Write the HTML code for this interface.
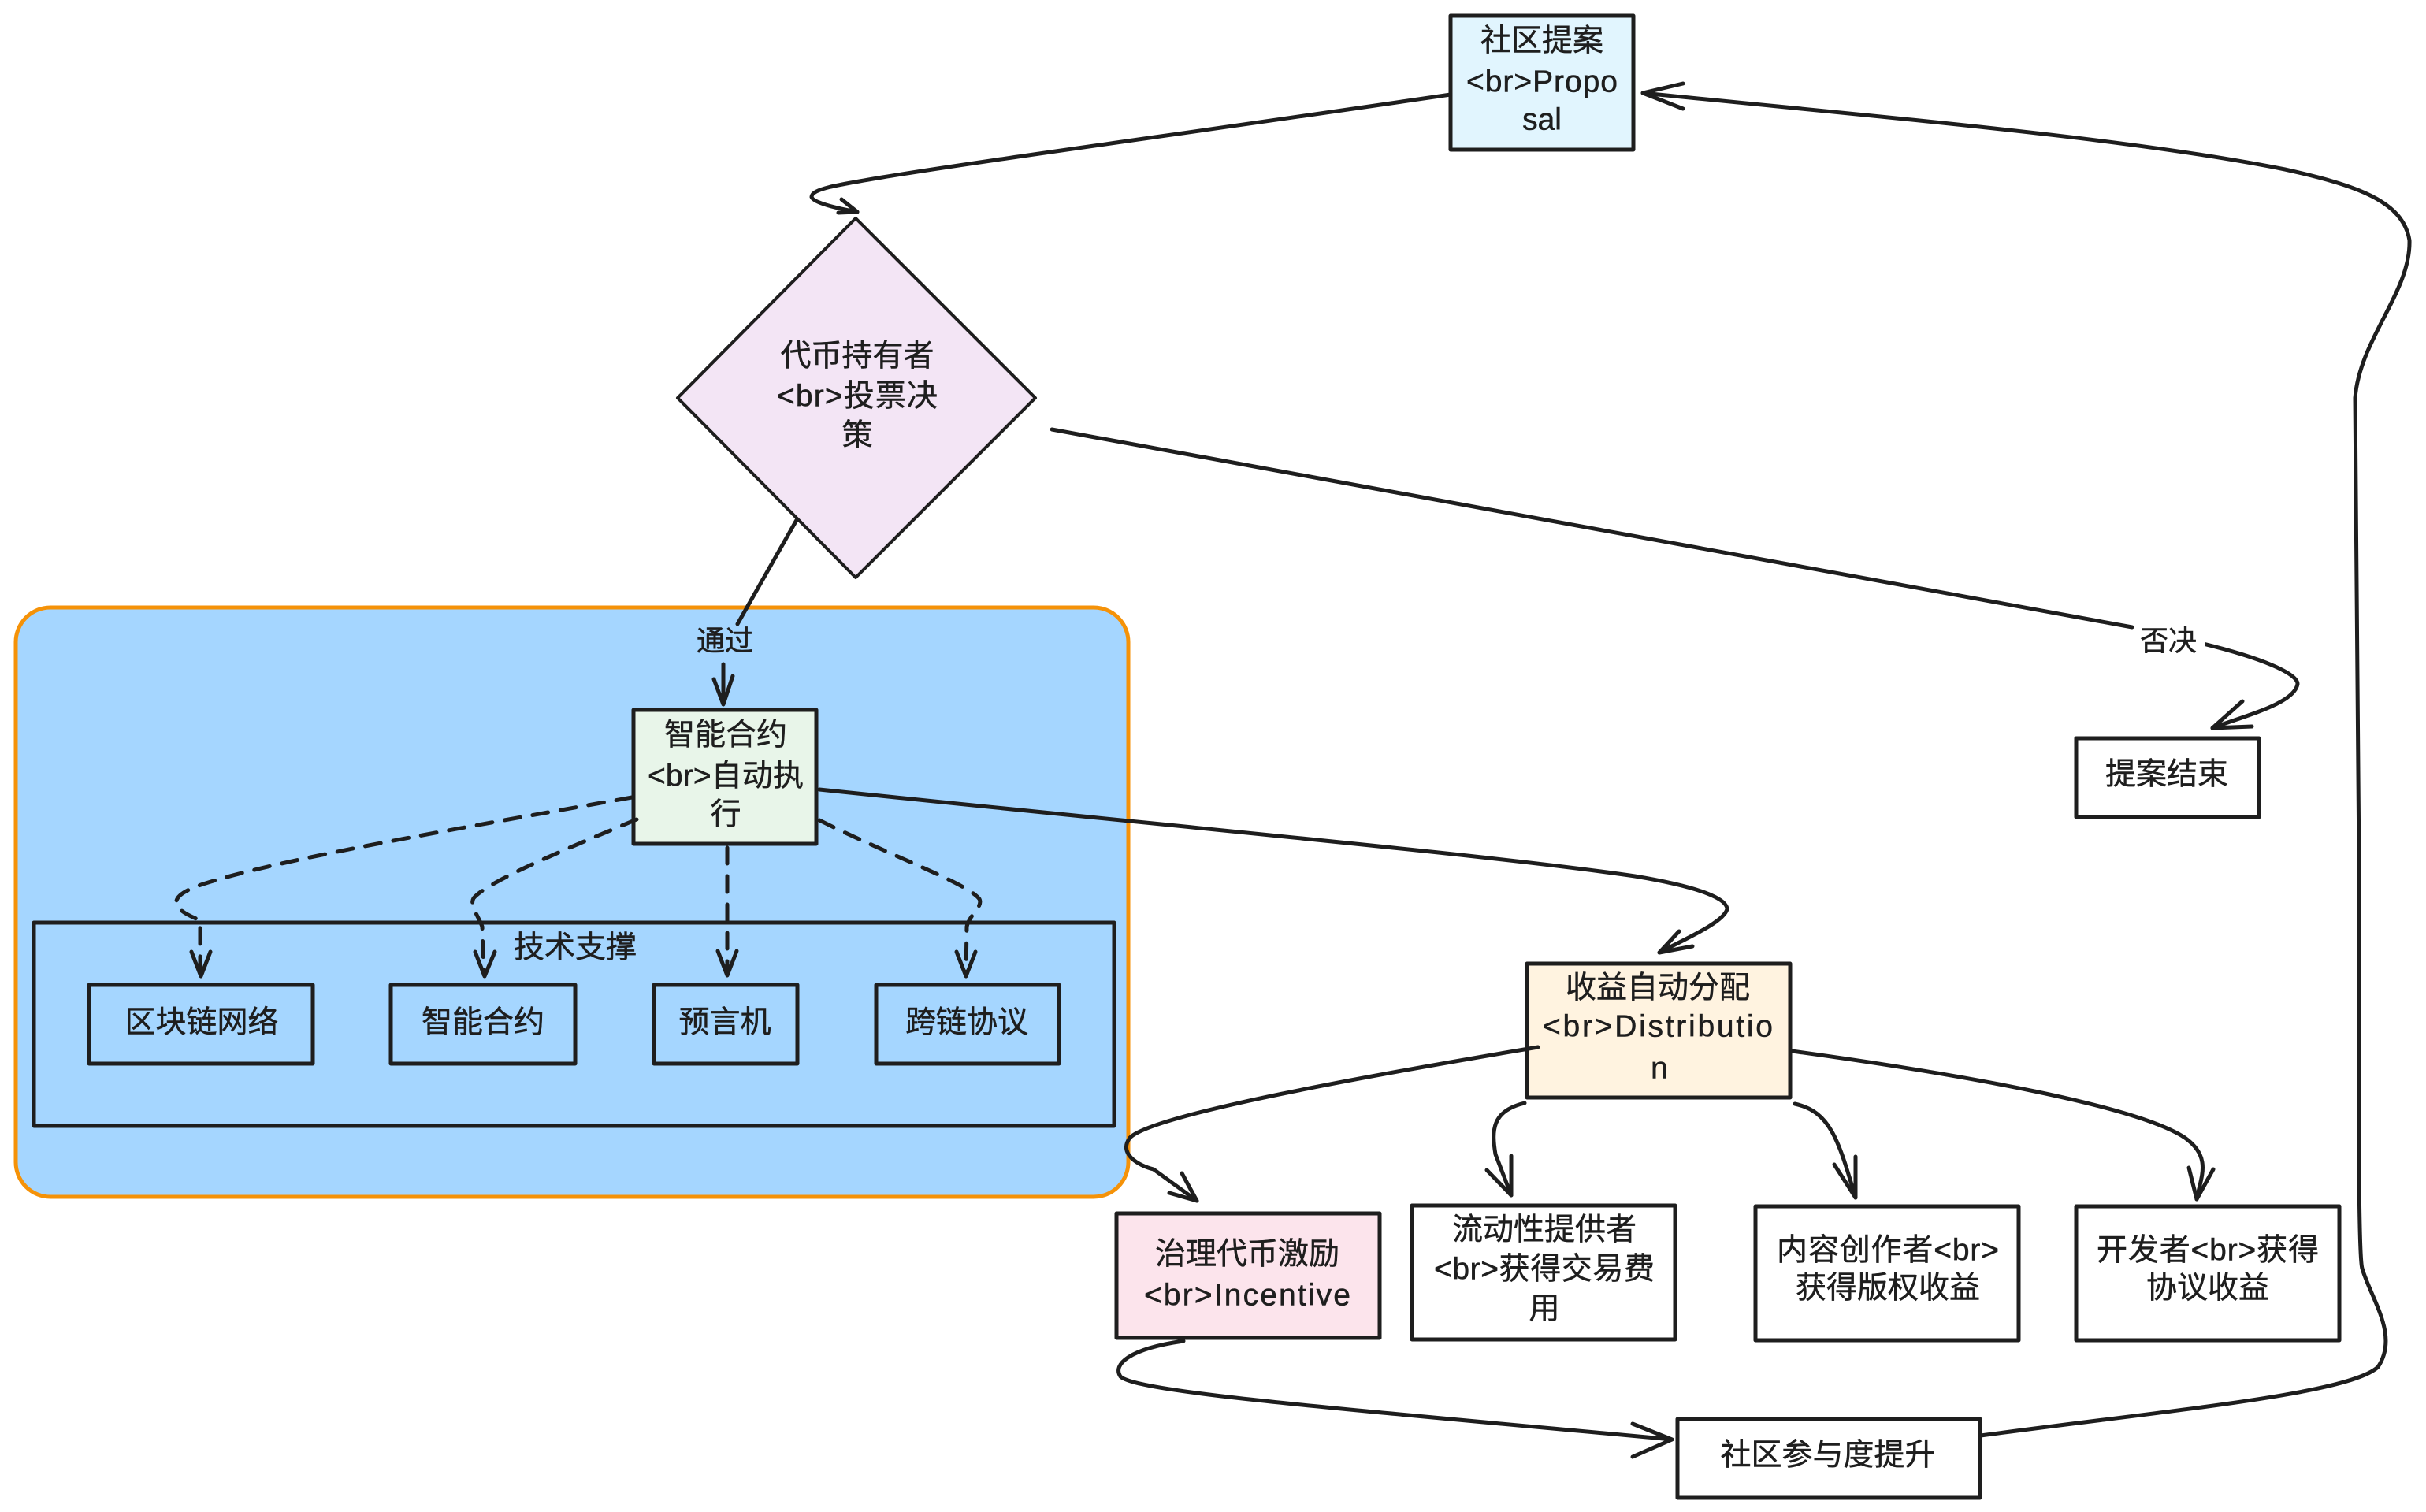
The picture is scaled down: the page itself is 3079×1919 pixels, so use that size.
<!DOCTYPE html>
<html><head><meta charset="utf-8"><style>
html,body{margin:0;padding:0;background:#fff}
svg{display:block}
text{font-family:"Liberation Sans","Noto Sans CJK SC",sans-serif;font-size:39px;fill:#1e1e1e;stroke:#1e1e1e;stroke-width:.5;text-anchor:middle;dominant-baseline:central}
.n{stroke:#1e1e1e;stroke-width:5;stroke-linejoin:round}
.e{fill:none;stroke:#1e1e1e;stroke-width:5;stroke-linecap:round;stroke-linejoin:round}
.d{stroke-dasharray:20 16}
</style></head><body>
<svg width="3079" height="1919" viewBox="0 0 3079 1919" xmlns="http://www.w3.org/2000/svg">
<rect width="3079" height="1919" fill="#fff"/>
<!-- cluster -->
<rect x="20" y="771" width="1412" height="748" rx="44" ry="44" fill="#a5d6ff" stroke="#f59208" stroke-width="5"/>
<rect x="43" y="1171" width="1371" height="258" fill="none" class="n"/>
<!-- nodes -->
<rect x="1847" y="20" width="232" height="170" fill="#e1f5fe" class="n" transform="translate(-6 0)"/>
<polygon points="1088,277 1316,505 1088,733 862,505" fill="#f3e5f5" class="n" style="stroke-width:4" transform="translate(-2 0)"/>
<rect x="806" y="905" width="232" height="170" fill="#e8f5e9" class="n" transform="translate(-2 -4)"/>
<rect x="113" y="1250" width="284" height="100" fill="none" class="n"/>
<rect x="496" y="1250" width="234" height="100" fill="none" class="n"/>
<rect x="830" y="1250" width="182" height="100" fill="none" class="n"/>
<rect x="1112" y="1250" width="232" height="100" fill="none" class="n"/>
<rect x="2645" y="937" width="232" height="100" fill="#fff" class="n" transform="translate(-10 0)"/>
<rect x="1946" y="1223" width="334" height="170" fill="#fff3e0" class="n" transform="translate(-8 0)"/>
<rect x="1423" y="1545" width="334" height="158" fill="#fce4ec" class="n" transform="translate(-6 -5)"/>
<rect x="1798" y="1530" width="334" height="170" fill="#fff" class="n" transform="translate(-6 0)"/>
<rect x="2236" y="1531" width="334" height="170" fill="#fff" class="n" transform="translate(-8 0)"/>
<rect x="2645" y="1531" width="334" height="170" fill="#fff" class="n" transform="translate(-10 0)"/>
<rect x="2136" y="1801" width="384" height="100" fill="#fff" class="n" transform="translate(-7 0)"/>
<!-- edges -->
<path class="e" d="M1841,120 C1500,170 1240,205 1120,225 C1060,235 1030,240 1030,250 C1032,257 1060,264 1088,269"/>
<path class="e" d="M1088,269 L1068,253 M1088,269 L1064,270"/>
<path class="e" d="M1335,545 L2706,796 M2788,815 C2872,835 2916,855 2916,868 C2912,893 2850,908 2808,924"/>
<path class="e" d="M2808,924 L2846,890 M2808,924 L2858,922"/>
<path class="e" d="M1011,660 L936,792"/>
<path class="e" d="M918,843 L918,892 M918,894 L906,862 M918,894 L930,858"/>
<path class="e" d="M1040,1002 C1500,1050 1890,1085 2075,1112 C2165,1127 2192,1142 2192,1154 C2187,1171 2140,1191 2106,1209"/>
<path class="e" d="M2106,1209 L2131,1182 M2106,1209 L2148,1201"/>
<path class="e d" d="M802,1012 C550,1057 350,1092 258,1122 C213,1137 213,1152 254,1168 L254,1237"/>
<path class="e" d="M255,1239 L243,1208 M255,1239 L267,1208"/>
<path class="e d" d="M808,1040 C700,1085 618,1120 601,1140 C596,1150 606,1160 612,1176 L614,1237"/>
<path class="e" d="M615,1239 L603,1208 M615,1239 L628,1208"/>
<path class="e d" d="M923,1076 L923,1236"/>
<path class="e" d="M923,1238 L911,1207 M923,1238 L935,1207"/>
<path class="e d" d="M1040,1041 C1130,1086 1228,1121 1243,1141 C1248,1151 1230,1161 1227,1176 L1226,1237"/>
<path class="e" d="M1226,1239 L1214,1208 M1226,1239 L1238,1208"/>
<g transform="translate(-6 -6)">
<path class="e" d="M1958,1335 C1750,1370 1470,1420 1440,1450 C1425,1470 1450,1485 1470,1490 L1525,1530"/>
<path class="e" d="M1525,1530 L1490,1520 M1525,1530 L1506,1495"/>
</g>
<g transform="translate(-7 -5)">
<path class="e" d="M1942,1405 C1900,1415 1900,1440 1905,1470 L1925,1522"/>
<path class="e" d="M1925,1522 L1894,1490 M1925,1522 L1925,1472"/>
</g>
<g transform="translate(-7 -4)">
<path class="e" d="M2285,1405 C2330,1415 2340,1450 2362,1524"/>
<path class="e" d="M2362,1524 L2335,1482 M2362,1524 L2362,1472"/>
</g>
<g transform="translate(-7 -6)">
<path class="e" d="M2281,1340 C2500,1370 2720,1410 2780,1450 C2815,1475 2800,1500 2795,1528"/>
<path class="e" d="M2795,1528 L2785,1488 M2795,1528 L2816,1490"/>
</g>
<g transform="translate(-8 -3)">
<path class="e" d="M1510,1705 C1440,1715 1420,1735 1430,1750 C1450,1770 1700,1790 2130,1830"/>
<path class="e" d="M2130,1830 L2080,1810 M2130,1830 L2080,1852"/>
</g>
<path class="e" d="M2514,1822 C2750,1790 2980,1770 3018,1735 C3045,1695 3010,1650 2998,1610 C2992,1590 2994,1300 2994,1100 L2989,505 C2995,430 3060,370 3058,305 C3050,255 2990,235 2900,215 C2700,175 2400,150 2085,118"/>
<path class="e" d="M2085,118 L2136,106 M2085,118 L2136,138"/>
<!-- labels -->
<text x="1962" y="52" dx="-5">社区提案</text>
<text x="1957" y="104" textLength="192" lengthAdjust="spacing">&lt;br&gt;Propo</text>
<text x="1962" y="152" dx="-5">sal</text>
<text x="1088" y="452">代币持有者</text>
<text x="1088" y="503" textLength="204" lengthAdjust="spacing">&lt;br&gt;投票决</text>
<text x="1088" y="553">策</text>
<text x="921" y="933">智能合约</text>
<text x="921" y="985" textLength="198" lengthAdjust="spacing">&lt;br&gt;自动执</text>
<text x="921" y="1034">行</text>
<text x="920" y="813" style="font-size:36px">通过</text>
<text x="730" y="1203">技术支撑</text>
<text x="256" y="1298">区块链网络</text>
<text x="613" y="1298">智能合约</text>
<text x="920" y="1298">预言机</text>
<text x="1227" y="1298">跨链协议</text>
<text x="2750" y="983">提案结束</text>
<rect x="2708" y="790" width="90" height="48" fill="#fff"/>
<text x="2752" y="813" style="font-size:36px">否决</text>
<text x="2104" y="1254">收益自动分配</text>
<text x="2104" y="1303" textLength="292" lengthAdjust="spacing">&lt;br&gt;Distributio</text>
<text x="2106" y="1356">n</text>
<text x="1583" y="1592">治理代币激励</text>
<text x="1583" y="1644" textLength="262" lengthAdjust="spacing">&lt;br&gt;Incentive</text>
<text x="1960" y="1561">流动性提供者</text>
<text x="1960" y="1611" textLength="280" lengthAdjust="spacing">&lt;br&gt;获得交易费</text>
<text x="1960" y="1661">用</text>
<text x="2396" y="1587" textLength="282" lengthAdjust="spacing">内容创作者&lt;br&gt;</text>
<text x="2396" y="1635">获得版权收益</text>
<text x="2802" y="1587" textLength="282" lengthAdjust="spacing">开发者&lt;br&gt;获得</text>
<text x="2802" y="1635">协议收益</text>
<text x="2320" y="1847">社区参与度提升</text>
</svg>
</body></html>
